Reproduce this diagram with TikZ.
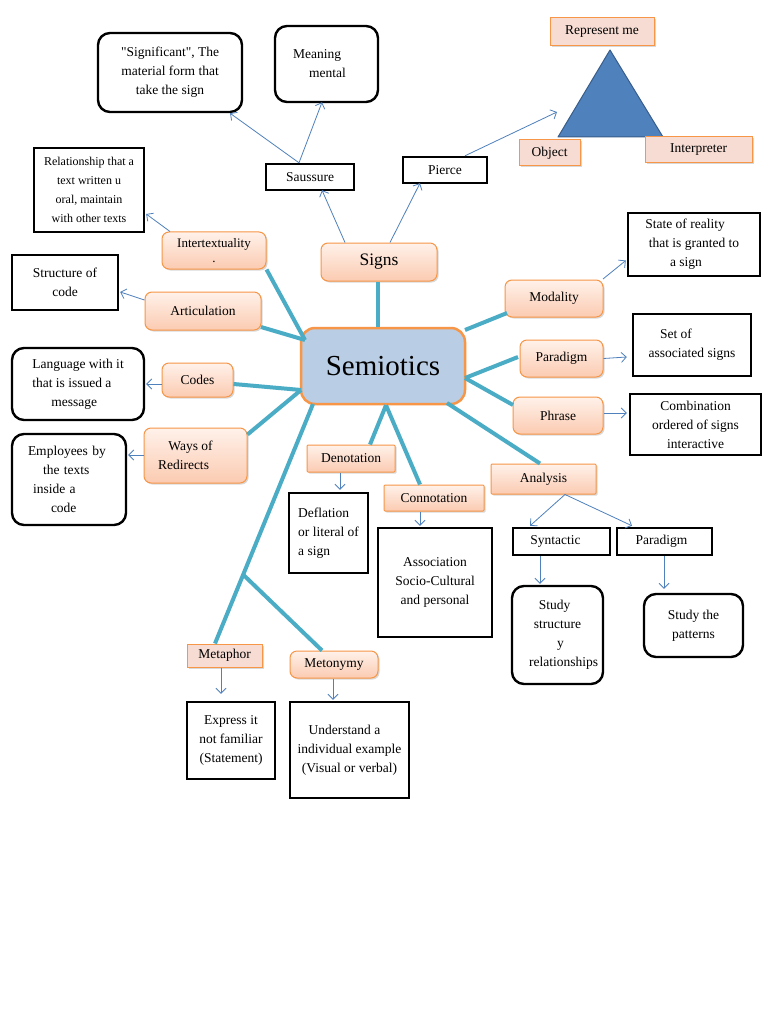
\documentclass[tikz,border=0pt]{standalone}
\usepackage{fontspec}
\setmainfont{Liberation Serif}
\newfontfamily\qfont{Liberation Serif}[Ligatures=TeXOff]
\usetikzlibrary{shapes.geometric,arrows.meta,calc,shadows}
\definecolor{tealc}{HTML}{4BACC6}
\definecolor{arrc}{HTML}{4F81BD}
\definecolor{orgc}{HTML}{F79646}
\definecolor{semfill}{HTML}{B9CDE5}
\definecolor{pktop}{HTML}{FFF1EA}
\definecolor{pkbot}{HTML}{FBCBB1}
\definecolor{pkflat}{HTML}{F6DCD3}
\definecolor{trif}{HTML}{4F81BD}
\definecolor{trid}{HTML}{385D8A}
\begin{document}
\begin{tikzpicture}[x=1pt,y=-1pt,
 every node/.style={inner sep=0pt, align=center, font=\fontsize{13.5}{19}\selectfont},
 blk/.style={draw=black, line width=2.4pt, fill=white},
 blkr/.style={blk, rounded corners=12pt},
 org/.style={draw=orgc, line width=1pt, rounded corners=7pt, top color=pktop, bottom color=pkbot,
   drop shadow={shadow xshift=1.5pt, shadow yshift=-1.5pt, opacity=0.3}},
 orgs/.style={draw=orgc, line width=1pt, fill=pkflat,
   drop shadow={shadow xshift=1.5pt, shadow yshift=-1.5pt, opacity=0.3}},
 orgr/.style={org, rounded corners=1pt},
 tl/.style={draw=tealc, line width=4pt},
 ar/.style={draw=arrc, line width=0.8pt, -{Straight Barb[length=5pt,width=10pt]}},
 sz/.style 2 args={minimum width=#1pt, minimum height=#2pt}
]
\fill[white] (0,0) rectangle (768,1024);
\useasboundingbox (0,0) rectangle (768,1024);

% ---- top ----
\node[blkr, sz={144}{79}] (sig) at (170,72.5) {{\qfont"Significant"}, The\\material form that\\take the sign};
\node[blkr, sz={103}{76}, align=left] (mean) at (326.5,64) {Meaning\\\hspace*{16pt}mental\hspace*{14pt}};
\node[blk, sz={88}{26}] (sauss) at (310,177) {Saussure};
\node[blk, sz={84}{26}] (pierce) at (445,170) {Pierce};
\node[blk, sz={110}{84}, font=\fontsize{12}{19}\selectfont] (rel) at (89,190) {Relationship that a\\text written u\\oral, maintain\\with other texts};
\node[org, sz={104}{37}, font=\fontsize{13}{15}\selectfont] (inter) at (214,250.5) {Intertextuality\\.};
\node[org, sz={116}{38}, font=\fontsize{17.5}{20}\selectfont] (signs) at (379,262) {Signs};

% triangle
\coordinate (tA) at (610,50);
\coordinate (tB) at (558,137);
\coordinate (tC) at (663,137);
\fill[trif, draw=trid, line width=1pt, line join=round] (tA) -- (tB) -- (tC) -- cycle;
\coordinate (triL) at (557,112);
\node[orgs, sz={104}{28}] (rep) at (602,32) {Represent me};
\node[orgs, sz={61}{26}] (obj) at (549.5,153) {Object};
\node[orgs, sz={107}{26}] (interp) at (698.5,150) {Interpreter};

% ---- left ----
\node[blk, sz={106}{55}] (struct) at (65,282.5) {Structure of\\code};
\node[org, sz={116}{38}] (artic) at (203,311) {Articulation};
\node[org, sz={71}{34}] (codes) at (197.5,380) {Codes};
\node[blkr, sz={132}{72}, align=left] (lang) at (78,384) {Language with it\\that is issued a\\\hspace*{19pt}message};
\node[org, sz={103}{55}] (ways) at (195.5,455.5) {Ways of\hspace*{10pt}\\Redirects\hspace*{24pt}};
\node[blkr, sz={114}{91}, align=left, text width=82pt] (emp) at (69,479.5) {Employees by\\\hspace*{15pt}the texts\\\hspace*{5pt}inside a\\\hspace*{23pt}code};

% ---- center ----
\node[draw=orgc, line width=2.5pt, fill=semfill, rounded corners=14pt, sz={164}{76}, font=\fontsize{29}{32}\selectfont] (sem) at (383,366) {Semiotics};

% ---- right ----
\node[blk, sz={132}{63}] (state) at (694,244.5) {State of reality\hspace*{18pt}\\that is granted to\hspace*{10pt}\\a sign\hspace*{16pt}};
\node[org, sz={98}{37}] (modal) at (554,298.5) {Modality};
\node[blk, sz={118}{62}] (set) at (692,345) {Set of\hspace*{32pt}\\associated signs};
\node[org, sz={83}{37}] (parR) at (561.5,358.5) {Paradigm};
\node[org, sz={90}{37}] (phr) at (558,415.5) {Phrase};
\node[blk, sz={131}{61}] (comb) at (695.5,424.5) {Combination\\ordered of signs\hspace*{20pt}\\interactive};

% ---- bottom center ----
\node[orgr, sz={88}{27}] (deno) at (351,458.5) {Denotation};
\node[blk, sz={79}{80}, align=left] (defl) at (328.5,533) {Deflation\\or literal of\\a sign};
\node[orgr, sz={100}{26}] (conn) at (434,498) {Connotation};
\node[blk, sz={114}{109}] (assoc) at (435,582.5) {Association\\Socio-Cultural\hspace*{10pt}\\and personal};
\node[orgr, sz={105}{30}] (ana) at (543.5,479) {Analysis};
\node[blk, sz={97}{27}] (synt) at (561.5,541.5) {Syntactic\hspace*{12pt}};
\node[blk, sz={95}{27}] (parL) at (664.5,541.5) {Paradigm\hspace*{6pt}};
\node[blkr, sz={91}{98}] (studyS) at (557.5,635) {Study\hspace*{6pt}\\structure\hspace*{20pt}\\\hspace*{6pt}y\\\hspace*{12pt}relationships};
\node[blkr, sz={99}{63}] (studyP) at (693.5,625.5) {Study the\\patterns};
\node[orgs, sz={75}{23}] (metaph) at (224.5,655.5) {Metaphor};
\node[org, sz={88}{27}] (meton) at (334,664.5) {Metonymy};
\node[blk, sz={88}{77}] (expr) at (231,740.5) {Express it\\not familiar\\(Statement)};
\node[blk, sz={119}{96}] (under) at (349.5,750) {Understand a\hspace*{10pt}\\individual example\\(Visual or verbal)};

% ---- teal connectors ----
\draw[tl] (inter.south east) -- ($(sem.center)+(-78,-26)$);
\draw[tl] ($(artic.center)+(58,16)$) -- ($(sem.center)+(-78,-26)$);
\draw[tl] ($(codes.east)+(0,4)$) -- ($(sem.center)+(-82,24)$);
\draw[tl] ($(ways.center)+(52,-21)$) -- ($(sem.center)+(-82,24)$);
\coordinate (mA) at ($(sem.center)+(-70,38)$);
\coordinate (mB) at ($(metaph.north)+(-9.5,0)$);
\draw[tl] (mA) -- (mB);
\coordinate (br) at ($(mA)!0.7125!(mB)$);
\draw[tl] (br) -- ($(meton.north)+(-12,0)$);
\draw[tl] ($(signs.south)+(-1,0)$) -- ($(sem.north)+(-5,0)$);
\draw[tl] ($(sem.south)+(3,0)$) -- ($(deno.north)+(19,0)$);
\draw[tl] ($(sem.south)+(3,0)$) -- ($(conn.north)+(-14,0)$);
\draw[tl] ($(sem.center)+(82,-36)$) -- ($(modal.center)+(-47,14.5)$);
\draw[tl] ($(sem.center)+(82,12)$) -- ($(parR.center)+(-43.5,-1.5)$);
\draw[tl] ($(sem.center)+(82,12)$) -- ($(phr.center)+(-45,-10.5)$);
\draw[tl] ($(sem.center)+(64,37)$) -- ($(ana.north)+(-3.5,0)$);

% ---- thin arrows ----
\draw[ar] ($(sauss.north)+(-11,0)$) -- ($(sig.south)+(60,0)$);
\draw[ar] ($(sauss.north)+(-11,0)$) -- ($(mean.south)+(-4.5,-1)$);
\draw[ar] ($(signs.north)+(-34,0)$) -- ($(sauss.south)+(12,-1)$);
\draw[ar] ($(signs.north)+(11,0)$) -- ($(pierce.south)+(-25,-1)$);
\draw[ar] ($(pierce.north)+(20,0)$) -- (triL);
\draw[ar] ($(inter.north)+(-44,0)$) -- ($(rel.east)+(1,24)$);
\draw[ar] ($(artic.west)+(0,-11)$) -- ($(struct.east)+(1,9.5)$);
\draw[ar] ($(codes.west)+(0,4)$) -- ($(lang.east)+(1,0)$);
\draw[ar] ($(ways.west)+(0,-0.5)$) -- ($(emp.east)+(1,-24.5)$);
\draw[ar] ($(modal.center)+(49,-19.5)$) -- ($(state.west)+(-1,16)$);
\draw[ar] (parR.east) -- ($(set.west)+(-5,12)$);
\draw[ar] ($(phr.east)+(0,-2.5)$) -- ($(comb.west)+(-2,-11.5)$);
\draw[ar] ($(deno.south)+(-11,0)$) -- ($(defl.north)+(11.5,-2)$);
\draw[ar] ($(conn.south)+(-14,0)$) -- ($(assoc.north)+(-15,-1)$);
\draw[ar] ($(ana.south)+(21.5,0)$) -- ($(synt.north)+(-31.5,-1)$);
\draw[ar] ($(ana.south)+(21.5,0)$) -- ($(parL.north)+(-32.5,-1)$);
\draw[ar] ($(synt.south)+(-21.5,0)$) -- ($(studyS.north)+(-17.5,-1)$);
\draw[ar] ($(parL.south)+(-0.5,0)$) -- ($(studyP.north)+(-29.5,-4)$);
\draw[ar] ($(metaph.south)+(-3.5,0)$) -- ($(expr.north)+(-10,-7)$);
\draw[ar] ($(meton.south)+(-1,0)$) -- ($(under.north)+(-16.5,-1)$);
\end{tikzpicture}
\end{document}
